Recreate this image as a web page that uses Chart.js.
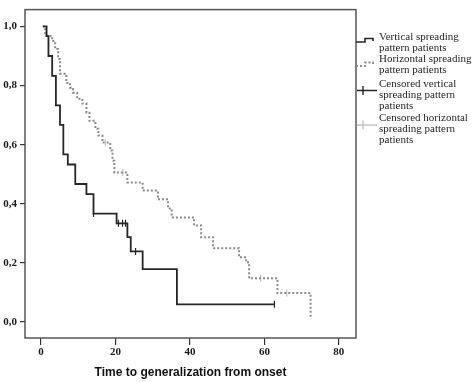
<!DOCTYPE html>
<html>
<head>
<meta charset="utf-8">
<script src="https://cdn.jsdelivr.net/npm/chart.js@4/dist/chart.umd.min.js"></script>
<style>
  html, body { margin: 0; padding: 0; background: #ffffff; }
  #wrap { position: relative; width: 474px; height: 382px; }
</style>
</head>
<body>
<div id="wrap"><canvas id="c" width="474" height="382"></canvas></div>
<script>
// ---- data ----
const verticalTimes    = [0.5, 1.5, 2.0, 3.0, 4.0, 5.1, 6.0, 7.2, 9.2, 12.2, 14.1, 20.3, 23.2, 24.1, 27.3, 36.5, 62.7];
const verticalSurv     = [1.0, 0.967, 0.9, 0.833, 0.733, 0.667, 0.567, 0.533, 0.467, 0.433, 0.367, 0.334, 0.287, 0.239, 0.179, 0.06, 0.06];
const verticalCensT    = [14.1, 20.8, 21.9, 22.7, 25.4, 62.7];
const verticalCensS    = [0.367, 0.334, 0.334, 0.334, 0.239, 0.06];

const horizontalTimes  = [0.5, 1.1, 3.0, 3.8, 4.6, 5.1, 6.8, 7.8, 8.6, 9.7, 11.1, 12.2, 13.0, 14.6, 15.4, 16.5, 18.6, 19.2, 19.7, 23.2, 27.3, 31.4, 34.1, 35.1, 41.1, 43.0, 46.2, 53.2, 55.1, 55.9, 63.5, 72.4];
const horizontalSurv   = [1.0, 0.968, 0.951, 0.924, 0.89, 0.84, 0.809, 0.793, 0.776, 0.755, 0.739, 0.708, 0.681, 0.654, 0.631, 0.607, 0.58, 0.546, 0.506, 0.472, 0.445, 0.415, 0.384, 0.354, 0.327, 0.287, 0.25, 0.219, 0.202, 0.148, 0.098, 0.01];
const horizontalCensT  = [17.3, 22.0, 59.0, 66.0];
const horizontalCensS  = [0.607, 0.506, 0.148, 0.098];

const xTickValues = [0, 20, 40, 60, 80];
const xTickLabels = ['0', '20', '40', '60', '80'];
const yTickValues = [0, 0.2, 0.4, 0.6, 0.8, 1.0];
const yTickLabels = ['0,0', '0,2', '0,4', '0,6', '0,8', '1,0'];

const xAxisTitle = 'Time to generalization from onset';
const legendLabels = [
  ['Vertical spreading', 'pattern patients'],
  ['Horizontal spreading', 'pattern patients'],
  ['Censored vertical', 'spreading pattern', 'patients'],
  ['Censored horizontal', 'spreading pattern', 'patients']
];

const toPts = (xs, ys) => xs.map((x, i) => ({ x: x, y: ys[i] }));

const BLACK = '#262626';
const GREY = '#8a8a8a';
const LIGHT = '#c4c4c4';

// ---- frame + legend plugin ----
const framePlugin = {
  id: 'frame',
  afterDraw(chart) {
    const ctx = chart.ctx;
    const a = chart.chartArea;
    ctx.save();
    ctx.strokeStyle = '#555555';
    ctx.lineWidth = 1.5;
    ctx.strokeRect(a.left, a.top, a.right - a.left, a.bottom - a.top);

    // legend
    const tx = 379;
    const rowsY = [[37, 48], [59.5, 70.5], [84, 95, 106], [118.5, 129.5, 140.5]];
    ctx.fillStyle = '#1e1e1e';
    ctx.font = '11px "Liberation Serif", "DejaVu Serif", serif';
    ctx.textBaseline = 'middle';
    ctx.textAlign = 'left';
    legendLabels.forEach((lines, i) => {
      lines.forEach((t, j) => ctx.fillText(t, tx, rowsY[i][j]));
    });

    // symbol 1: black step
    ctx.setLineDash([]);
    ctx.strokeStyle = BLACK;
    ctx.lineWidth = 1.6;
    ctx.beginPath();
    ctx.moveTo(356, 42); ctx.lineTo(365, 42); ctx.lineTo(365, 38.5); ctx.lineTo(373, 38.5); ctx.lineTo(373, 41);
    ctx.stroke();
    // symbol 2: grey dotted step
    ctx.strokeStyle = GREY;
    ctx.lineWidth = 1.8;
    ctx.setLineDash([2, 2]);
    ctx.beginPath();
    ctx.moveTo(356, 66); ctx.lineTo(365, 66); ctx.lineTo(365, 62.5); ctx.lineTo(373, 62.5); ctx.lineTo(373, 65);
    ctx.stroke();
    ctx.setLineDash([]);
    // symbol 3: black censor mark
    ctx.strokeStyle = BLACK;
    ctx.lineWidth = 1.4;
    ctx.beginPath();
    ctx.moveTo(357, 90.5); ctx.lineTo(377, 90.5);
    ctx.moveTo(363, 86); ctx.lineTo(363, 95);
    ctx.stroke();
    // symbol 4: light censor mark
    ctx.strokeStyle = LIGHT;
    ctx.beginPath();
    ctx.moveTo(357, 125); ctx.lineTo(377, 125);
    ctx.moveTo(363, 120.5); ctx.lineTo(363, 129.5);
    ctx.stroke();
    ctx.restore();
  }
};

const tickFont = { family: '"Liberation Serif", "DejaVu Serif", serif', size: 11, weight: 'bold' };

new Chart(document.getElementById('c'), {
  type: 'line',
  data: {
    datasets: [
      {
        label: 'Vertical spreading pattern patients',
        data: toPts(verticalTimes, verticalSurv),
        stepped: 'before',
        borderColor: BLACK,
        borderWidth: 1.8,
        pointRadius: 0,
        fill: false
      },
      {
        label: 'Horizontal spreading pattern patients',
        data: toPts(horizontalTimes, horizontalSurv),
        stepped: 'before',
        borderColor: GREY,
        borderWidth: 2,
        borderDash: [2, 2],
        pointRadius: 0,
        fill: false
      },
      {
        label: 'Censored vertical spreading pattern patients',
        data: toPts(verticalCensT, verticalCensS),
        showLine: false,
        pointStyle: 'line',
        rotation: 90,
        pointRadius: 3.5,
        borderColor: BLACK,
        pointBorderWidth: 1.2
      },
      {
        label: 'Censored horizontal spreading pattern patients',
        data: toPts(horizontalCensT, horizontalCensS),
        showLine: false,
        pointStyle: 'line',
        rotation: 90,
        pointRadius: 3.5,
        borderColor: LIGHT,
        pointBorderWidth: 1.2
      }
    ]
  },
  options: {
    responsive: false,
    animation: false,
    events: [],
    layout: { padding: { top: 8, right: 118, left: 0, bottom: 0 } },
    plugins: { legend: { display: false }, tooltip: { enabled: false } },
    scales: {
      x: {
        type: 'linear',
        min: -4.3,
        max: 84.6,
        afterFit(s) { s.height = 44; },
        afterBuildTicks(s) { s.ticks = xTickValues.map(v => ({ value: v })); },
        grid: { drawOnChartArea: false, drawTicks: true, tickLength: 7, color: '#333', lineWidth: 1.2 },
        border: { display: false },
        ticks: {
          autoSkip: false, maxRotation: 0, padding: 1, color: '#1a1a1a', font: tickFont,
          callback(v) { const i = xTickValues.indexOf(v); return i >= 0 ? xTickLabels[i] : ''; }
        },
        title: {
          display: true, text: xAxisTitle, color: '#111',
          font: { family: '"Liberation Sans", Arial, sans-serif', size: 12, weight: 'bold' },
          padding: { top: 0, bottom: 2.5 }
        }
      },
      y: {
        type: 'linear',
        min: -0.054,
        max: 1.057,
        afterFit(s) { s.width = 25; },
        afterBuildTicks(s) { s.ticks = yTickValues.map(v => ({ value: v })); },
        grid: { drawOnChartArea: false, drawTicks: true, tickLength: 5, color: '#333', lineWidth: 1.2 },
        border: { display: false },
        ticks: {
          autoSkip: false, padding: 3, color: '#1a1a1a', font: tickFont,
          callback(v) { const i = yTickValues.findIndex(t => Math.abs(t - v) < 1e-9); return i >= 0 ? yTickLabels[i] : ''; }
        }
      }
    }
  },
  plugins: [framePlugin]
});
</script>
</body>
</html>
